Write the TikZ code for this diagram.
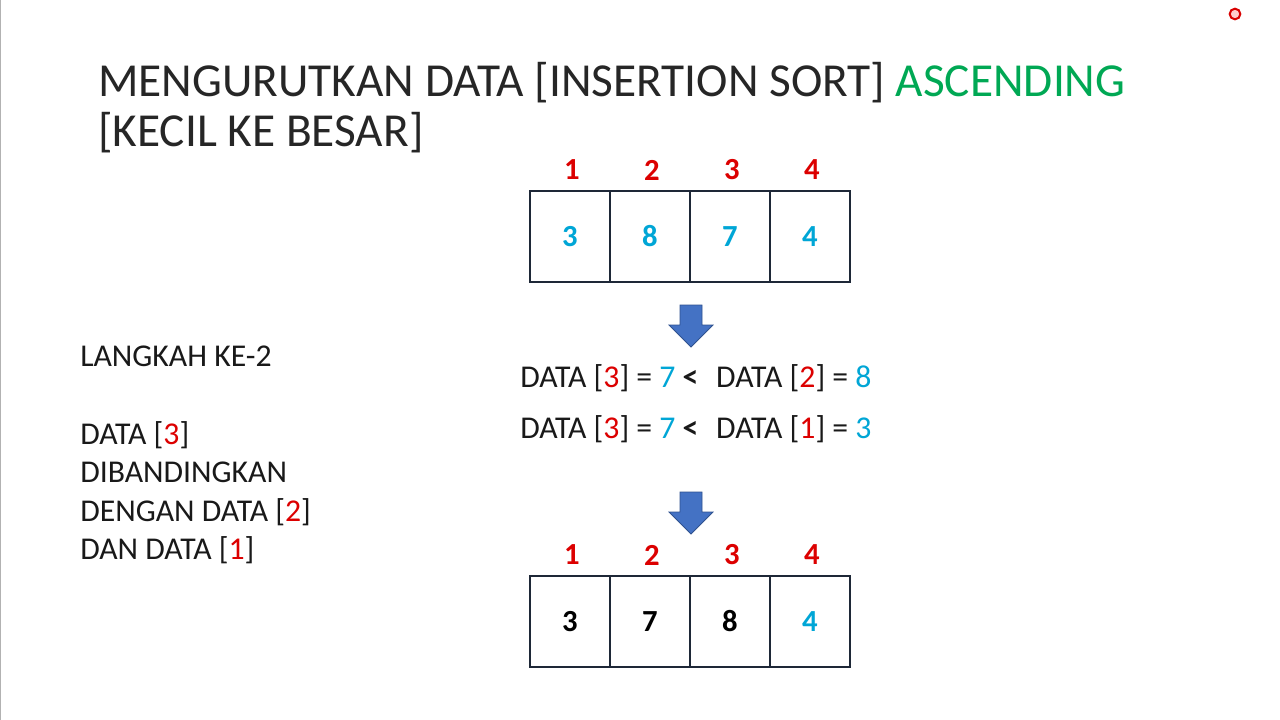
\documentclass[tikz,border=0pt]{standalone}
\usepackage{fontspec}
\setmainfont{Carlito}
\definecolor{rd}{RGB}{220,0,0}
\definecolor{cy}{RGB}{0,166,214}
\definecolor{gr}{RGB}{0,168,84}
\definecolor{bl}{RGB}{68,114,196}
\definecolor{bld}{RGB}{47,82,143}
\definecolor{bx}{RGB}{30,40,55}
\begin{document}
\begin{tikzpicture}[x=0.75pt,y=-0.75pt,
  title/.style={anchor=base west,inner sep=0pt,font=\fontsize{35.5}{40}\selectfont,text=black!85},
  txt/.style={anchor=base west,inner sep=0pt,font=\fontsize{23.8}{28}\selectfont,text=black!90},
  idx/.style={font=\fontsize{23}{26}\selectfont\bfseries,text=rd},
  cell/.style={draw=bx,line width=1.5pt,minimum width=60pt,minimum height=68.25pt,inner sep=0pt,font=\fontsize{23}{26}\selectfont\bfseries},
  barrow/.style={fill=bl,draw=bld,line width=0.6pt}]
\useasboundingbox (0,0) rectangle (1280,720);
\fill[white] (0,0) rectangle (1280,720);
\draw[gray!60,line width=0.8pt] (0.5,0) -- (0.5,720);
\node[circle,fill=red!20,draw=red!85!black,line width=1.5pt,minimum size=8pt,inner sep=0pt] (dot) at (1235,14) {};
\node[title] (t1) at (98,97) {MENGURUTKAN DATA [INSERTION SORT] \textcolor{gr}{ASCENDING}};
\node[title] (t2) at (98,147) {[KECIL KE BESAR]};
\foreach \i/\v [count=\k] in {1/3,2/8,3/7,4/4}{
  \node[idx] (ia\k) at (572+80*\k-80,170) {\i};
  \node[cell,text=cy] (a\k) at (570+80*\k-80,236.5) {\v};
}
\foreach \i/\v/\c [count=\k] in {1/3/black,2/7/black,3/8/black,4/4/cy}{
  \node[idx] (ib\k) at (572+80*\k-80,555) {\i};
  \node[cell,text=\c] (b\k) at (570+80*\k-80,621.5) {\v};
}
\foreach \y in {305,492}{
  \draw[barrow] (680,\y) -- (702,\y) -- (702,\y+20) -- (713,\y+20) -- (691,\y+42) -- (669,\y+20) -- (680,\y+20) -- cycle;
}
\node[txt] (c1) at (520,387) {DATA [\textcolor{rd}{3}] = \textcolor{cy}{7} \textbf{<}\,\, DATA [\textcolor{rd}{2}] = \textcolor{cy}{8}};
\node[txt] (c2) at (520,438) {DATA [\textcolor{rd}{3}] = \textcolor{cy}{7} \textbf{<}\,\, DATA [\textcolor{rd}{1}] = \textcolor{cy}{3}};
\node[txt] (l1) at (80,366) {LANGKAH KE-2};
\node[txt] (l2) at (80,444) {DATA [\textcolor{rd}{3}]};
\node[txt] (l3) at (80,482) {DIBANDINGKAN};
\node[txt] (l4) at (80,521) {DENGAN DATA [\textcolor{rd}{2}]};
\node[txt] (l5) at (80,559) {DAN DATA [\textcolor{rd}{1}]};
\end{tikzpicture}
\end{document}
